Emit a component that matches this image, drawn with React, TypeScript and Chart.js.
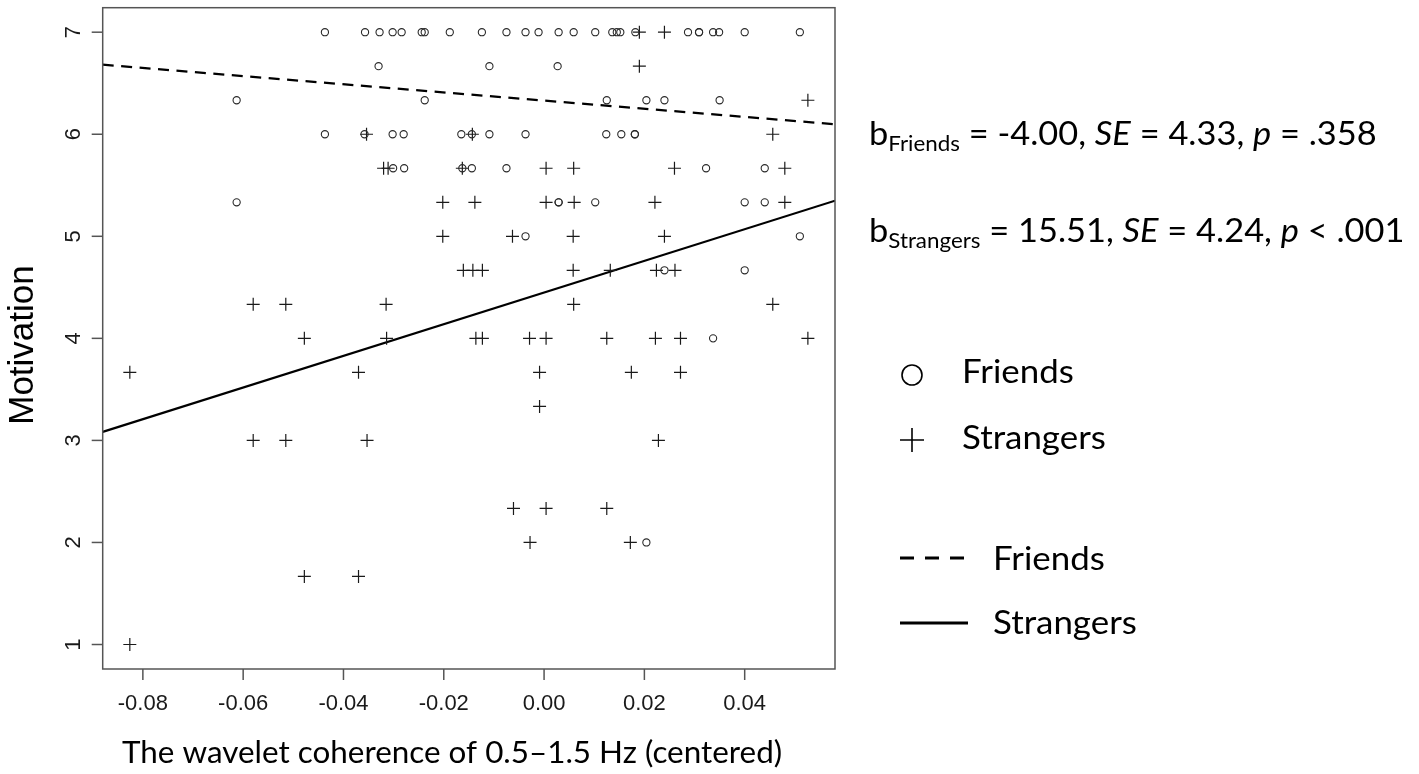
import { useEffect, useRef } from 'react';
import { Chart, registerables } from 'chart.js';

Chart.register(...registerables);

// ---- data ----
const friendsX = [
  // y = 7
  -0.0437, -0.0357, -0.0328, -0.0302, -0.0284, -0.0244, -0.0238, -0.0188, -0.0124, -0.0075, -0.0037, -0.0011, 0.0029,
  0.0059, 0.0102, 0.0136, 0.0145, 0.0152, 0.0182, 0.0287, 0.0309, 0.0309, 0.0337, 0.0349, 0.0400, 0.0510,
  // y = 6.667
  -0.0330, -0.0109, 0.0027,
  // y = 6.333
  -0.0613, -0.0238, 0.0125, 0.0204, 0.0240, 0.0350,
  // y = 6
  -0.0437, -0.0358, -0.0302, -0.0280, -0.0165, -0.0144, -0.0109, -0.0037, 0.0124, 0.0154, 0.0181, 0.0181,
  // y = 5.667
  -0.0301, -0.0279, -0.0163, -0.0144, -0.0075, 0.0323, 0.0440,
  // y = 5.333
  -0.0613, 0.0029, 0.0029, 0.0102, 0.0400, 0.0440,
  // y = 5
  -0.0037, 0.0510,
  // y = 4.667
  0.0240, 0.0400,
  // y = 4
  0.0337,
  // y = 2
  0.0204,
];
const friendsY = [
  7, 7, 7, 7, 7, 7, 7, 7, 7, 7, 7, 7, 7,
  7, 7, 7, 7, 7, 7, 7, 7, 7, 7, 7, 7, 7,
  6.667, 6.667, 6.667,
  6.333, 6.333, 6.333, 6.333, 6.333, 6.333,
  6, 6, 6, 6, 6, 6, 6, 6, 6, 6, 6, 6,
  5.667, 5.667, 5.667, 5.667, 5.667, 5.667, 5.667,
  5.333, 5.333, 5.333, 5.333, 5.333, 5.333,
  5, 5,
  4.667, 4.667,
  4,
  2,
];
const strangersX = [
  // 7
  0.0190, 0.0240,
  // 6.667
  0.0190,
  // 6.333
  0.0526,
  // 6
  -0.0354, -0.0143, 0.0456,
  // 5.667
  -0.0320, -0.0311, -0.0163, 0.0004, 0.0059, 0.0260, 0.0480,
  // 5.333
  -0.0202, -0.0138, 0.0004, 0.0060, 0.0221, 0.0480,
  // 5
  -0.0202, -0.0063, 0.0058, 0.0240,
  // 4.667
  -0.0161, -0.0142, -0.0123, 0.0058, 0.0132, 0.0224, 0.0261,
  // 4.333
  -0.0580, -0.0515, -0.0315, 0.0059, 0.0456,
  // 4
  -0.0478, -0.0314, -0.0136, -0.0123, -0.0029, 0.0004, 0.0125, 0.0222, 0.0272, 0.0526,
  // 3.667
  -0.0826, -0.0370, -0.0009, 0.0174, 0.0272,
  // 3.333
  -0.0009,
  // 3
  -0.0580, -0.0515, -0.0353, 0.0228,
  // 2.333
  -0.0061, 0.0004, 0.0125,
  // 2
  -0.0028, 0.0172,
  // 1.667
  -0.0478, -0.0370,
  // 1
  -0.0826,
];
const strangersY = [
  7, 7,
  6.667,
  6.333,
  6, 6, 6,
  5.667, 5.667, 5.667, 5.667, 5.667, 5.667, 5.667,
  5.333, 5.333, 5.333, 5.333, 5.333, 5.333,
  5, 5, 5, 5,
  4.667, 4.667, 4.667, 4.667, 4.667, 4.667, 4.667,
  4.333, 4.333, 4.333, 4.333, 4.333,
  4, 4, 4, 4, 4, 4, 4, 4, 4, 4,
  3.667, 3.667, 3.667, 3.667, 3.667,
  3.333,
  3, 3, 3, 3,
  2.333, 2.333, 2.333,
  2, 2,
  1.667, 1.667,
  1,
];

const xTicks = [-0.08, -0.06, -0.04, -0.02, 0, 0.02, 0.04];
const xTickLabels = ['-0.08', '-0.06', '-0.04', '-0.02', '0.00', '0.02', '0.04'];
const yTicks = [1, 2, 3, 4, 5, 6, 7];
const yTickLabels = ['1', '2', '3', '4', '5', '6', '7'];

const friendsFit = { intercept: 6.33, slope: -4.0 };
const strangersFit = { intercept: 4.449, slope: 15.51 };

const xTitle = 'The wavelet coherence of 0.5–1.5 Hz (centered)';
const yTitle = 'Motivation';
const statFriends = [
  { t: 'b' }, { t: 'Friends', sub: true }, { t: ' = -4.00, ' }, { t: 'SE', it: true }, { t: ' = 4.33, ' },
  { t: 'p', it: true }, { t: ' = .358' },
];
const statStrangers = [
  { t: 'b' }, { t: 'Strangers', sub: true }, { t: ' = 15.51, ' }, { t: 'SE', it: true }, { t: ' = 4.24, ' },
  { t: 'p', it: true }, { t: ' < .001' },
];
const legendLabels = ['Friends', 'Strangers', 'Friends', 'Strangers'];

// ---- helpers ----
const allX = [...friendsX, ...strangersX];
const allY = [...friendsY, ...strangersY];
function padRange(vals: number[]) {
  const lo = Math.min(...vals);
  const hi = Math.max(...vals);
  const p = (hi - lo) * 0.04;
  return [lo - p, hi + p];
}
const [xMin, xMax] = padRange(allX);
const [yMin, yMax] = padRange(allY);

const fitLine = (f: { intercept: number; slope: number }) => [
  { x: xMin, y: f.intercept + f.slope * xMin },
  { x: xMax, y: f.intercept + f.slope * xMax },
];

const INK = '#1a1a1a';
const RFONT = '"Liberation Sans", Arial, sans-serif';
const CFONT = 'Lato, "Open Sans", sans-serif';

function drawRuns(ctx: CanvasRenderingContext2D, runs: any[], x: number, y: number, size: number, sx: number) {
  ctx.save();
  ctx.translate(x, y);
  ctx.scale(sx, 1);
  let cx = 0;
  ctx.textAlign = 'left';
  ctx.textBaseline = 'alphabetic';
  for (const r of runs) {
    const sz = r.sub ? size * 0.65 : size;
    ctx.font = `${r.it ? 'italic ' : ''}${sz}px ${CFONT}`;
    ctx.fillText(r.t, cx, r.sub ? size * 0.2 : 0);
    cx += ctx.measureText(r.t).width;
  }
  ctx.restore();
}

function scaledText(ctx: CanvasRenderingContext2D, t: string, x: number, y: number, font: string, sx: number) {
  ctx.save();
  ctx.translate(x, y);
  ctx.scale(sx, 1);
  ctx.font = font;
  ctx.textAlign = 'left';
  ctx.textBaseline = 'alphabetic';
  ctx.fillText(t, 0, 0);
  ctx.restore();
}

const rPlugin = {
  id: 'rstyle',
  afterDraw(chart: any) {
    const { ctx, chartArea: a, scales } = chart;
    const xs = scales.x;
    const ys = scales.y;
    ctx.save();
    // box
    ctx.strokeStyle = '#555';
    ctx.lineWidth = 1.5;
    ctx.strokeRect(a.left, a.top, a.right - a.left, a.bottom - a.top);
    // x axis ticks
    ctx.fillStyle = INK;
    ctx.font = `22px ${RFONT}`;
    ctx.textAlign = 'center';
    ctx.textBaseline = 'alphabetic';
    xTicks.forEach((v, i) => {
      const px = xs.getPixelForValue(v);
      ctx.beginPath();
      ctx.moveTo(px, a.bottom);
      ctx.lineTo(px, a.bottom + 11);
      ctx.stroke();
      ctx.fillText(xTickLabels[i], px, a.bottom + 41);
    });
    // y axis ticks (rotated labels)
    yTicks.forEach((v, i) => {
      const py = ys.getPixelForValue(v);
      ctx.beginPath();
      ctx.moveTo(a.left - 11, py);
      ctx.lineTo(a.left, py);
      ctx.stroke();
      ctx.save();
      ctx.translate(a.left - 23, py);
      ctx.rotate(-Math.PI / 2);
      ctx.textAlign = 'center';
      ctx.fillText(yTickLabels[i], 0, 0);
      ctx.restore();
    });
    // y title
    ctx.save();
    ctx.font = `35px ${RFONT}`;
    ctx.translate(33, 345);
    ctx.rotate(-Math.PI / 2);
    ctx.textAlign = 'center';
    ctx.fillStyle = '#000';
    ctx.fillText(yTitle, 0, 0);
    ctx.restore();
    // x title
    ctx.fillStyle = '#000';
    scaledText(ctx, xTitle, 122, 763, `30px ${CFONT}`, 1.047);
    // stats
    drawRuns(ctx, statFriends, 869, 145, 32, 1.075);
    drawRuns(ctx, statStrangers, 869, 242, 32, 1.075);
    // legend
    ctx.strokeStyle = '#000';
    ctx.lineWidth = 1.6;
    ctx.beginPath();
    ctx.arc(912, 375, 10, 0, Math.PI * 2);
    ctx.stroke();
    ctx.beginPath();
    ctx.moveTo(900, 440);
    ctx.lineTo(924, 440);
    ctx.moveTo(912, 428);
    ctx.lineTo(912, 452);
    ctx.stroke();
    ctx.lineWidth = 3;
    ctx.setLineDash([14, 11]);
    ctx.beginPath();
    ctx.moveTo(900, 558);
    ctx.lineTo(968, 558);
    ctx.stroke();
    ctx.setLineDash([]);
    ctx.beginPath();
    ctx.moveTo(900, 623);
    ctx.lineTo(968, 623);
    ctx.stroke();
    const lf = `32px ${CFONT}`;
    scaledText(ctx, legendLabels[0], 962, 383, lf, 1.09);
    scaledText(ctx, legendLabels[1], 962, 449, lf, 1.09);
    scaledText(ctx, legendLabels[2], 993, 570, lf, 1.09);
    scaledText(ctx, legendLabels[3], 993, 634, lf, 1.09);
    ctx.restore();
  },
};

export default function App() {
  const ref = useRef<HTMLCanvasElement>(null);
  useEffect(() => {
    document.body.style.margin = '0';
    const canvas = ref.current!;
    const chart = new Chart(canvas, {
      type: 'scatter',
      data: {
        datasets: [
          {
            label: 'Friends',
            data: friendsX.map((x, i) => ({ x, y: friendsY[i] })),
            pointStyle: 'circle',
            pointRadius: 3.6,
            borderColor: '#2a2a2a',
            backgroundColor: 'rgba(0,0,0,0)',
            borderWidth: 1.1,
          },
          {
            label: 'Strangers',
            data: strangersX.map((x, i) => ({ x, y: strangersY[i] })),
            pointStyle: 'cross',
            pointRadius: 6.5,
            borderColor: '#1a1a1a',
            backgroundColor: 'rgba(0,0,0,0)',
            borderWidth: 1.2,
          },
          {
            label: 'Friends fit',
            data: fitLine(friendsFit),
            showLine: true,
            pointRadius: 0,
            borderColor: '#000',
            borderWidth: 2.2,
            borderDash: [11, 7.5],
          },
          {
            label: 'Strangers fit',
            data: fitLine(strangersFit),
            showLine: true,
            pointRadius: 0,
            borderColor: '#000',
            borderWidth: 2.2,
          },
        ],
      },
      options: {
        animation: false,
        responsive: false,
        devicePixelRatio: 1,
        layout: { padding: { left: 102.7, top: 4, right: 584, bottom: 105 } },
        scales: {
          x: { type: 'linear', display: false, min: xMin, max: xMax },
          y: { type: 'linear', display: false, min: yMin, max: yMax },
        },
        plugins: { legend: { display: false }, tooltip: { enabled: false } },
        events: [],
      },
      plugins: [rPlugin],
    });
    return () => chart.destroy();
  }, []);
  return (
    <div style={{ width: 1419, height: 774, background: '#fff' }}>
      <canvas ref={ref} width={1419} height={774} style={{ display: 'block' }} />
    </div>
  );
}
